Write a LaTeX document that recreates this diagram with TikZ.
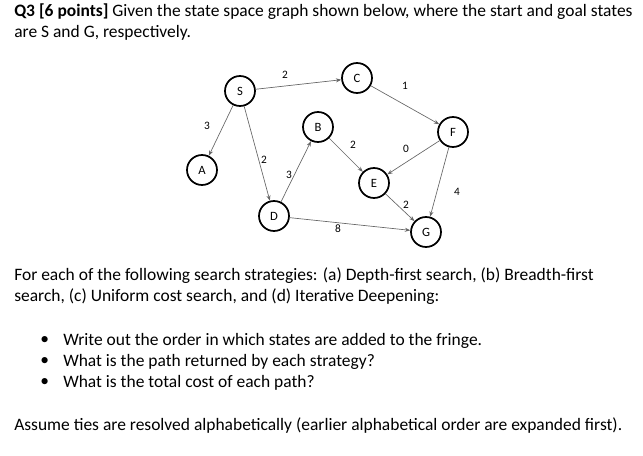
\documentclass[tikz,border=0pt]{standalone}
\usepackage{fontspec}
\setmainfont{Carlito}
\usetikzlibrary{arrows.meta}
\begin{document}
\begin{tikzpicture}[x=0.75pt,y=-0.75pt,
  st/.style={circle,draw,line width=1.3pt,minimum size=22.5pt,inner sep=0pt,font=\fontsize{9.5}{10}\selectfont},
  ed/.style={draw=black!60,line width=0.5pt,-{Stealth[length=4pt,width=3pt]}},
  wl/.style={font=\fontsize{8.5}{9}\selectfont},
  tx/.style={anchor=west,inner sep=0pt,font=\fontsize{13.1}{15}\selectfont}]
\useasboundingbox (0,0) rectangle (643,456);
\node[st] (S) at (240,91) {S};
\node[st] (C) at (357,78) {C};
\node[st] (B) at (318,127) {B};
\node[st] (F) at (453,132) {F};
\node[st] (A) at (202,170) {A};
\node[st] (E) at (374,183) {E};
\node[st] (D) at (274,216) {D};
\node[st] (G) at (426,232) {G};
\draw[ed] (S) -- (C);
\draw[ed] (C) -- (F);
\draw[ed] (S) -- (A);
\draw[ed] (S) -- (D);
\draw[ed] (D) -- (B);
\draw[ed] (B) -- (E);
\draw[ed] (F) -- (E);
\draw[ed] (F) -- (G);
\draw[ed] (E) -- (G);
\draw[ed] (D) -- (G);
\node[wl] (l1) at (285,75) {2};
\node[wl] (l2) at (405,86) {1};
\node[wl] (l3) at (207,126) {3};
\node[wl] (l4) at (264,160) {2};
\node[wl] (l5) at (289,175) {3};
\node[wl] (l6) at (353,145) {2};
\node[wl] (l7) at (406,149) {0};
\node[wl] (l8) at (457,192) {4};
\node[wl] (l9) at (406,205) {2};
\node[wl] (l10) at (338,229) {8};
\node[tx] (t1) at (14,12) {\textbf{Q3 [6 points]} Given the state space graph shown below, where the start and goal states};
\node[tx] (t2) at (14,33) {are S and G, respectively.};
\node[tx] (t3) at (14,276) {For each of the following search strategies: (a) Depth-first search, (b) Breadth-first};
\node[tx] (t4) at (14,297) {search, (c) Uniform cost search, and (d) Iterative Deepening:};
\node[tx] (b1) at (40,341) {•};
\node[tx] (b2) at (40,362) {•};
\node[tx] (b3) at (40,383) {•};
\node[tx] (t5) at (63,341) {Write out the order in which states are added to the fringe.};
\node[tx] (t6) at (63,362) {What is the path returned by each strategy?};
\node[tx] (t7) at (63,383) {What is the total cost of each path?};
\node[tx] (t8) at (14,426) {Assume ties are resolved alphabetically (earlier alphabetical order are expanded first).};
\end{tikzpicture}
\end{document}
